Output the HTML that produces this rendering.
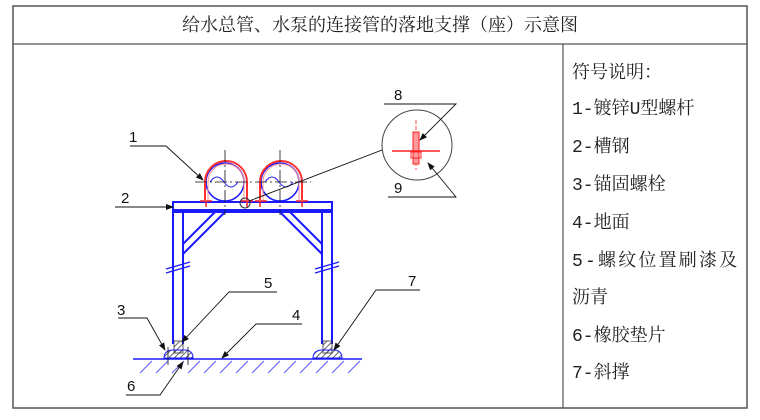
<!DOCTYPE html>
<html><head><meta charset="utf-8"><style>
html,body{margin:0;padding:0;background:#fff;width:760px;height:420px;overflow:hidden}
svg{display:block}
.t{font-family:"Liberation Mono","Noto Serif CJK SC",serif;font-size:18px;fill:#222}
.h{font-family:"Liberation Serif","Noto Serif CJK SC",serif;font-size:18px;fill:#222}
.l{font-family:"Liberation Sans",sans-serif;font-size:15px;fill:#111}
</style></head><body>
<svg width="760" height="420" viewBox="0 0 760 420" xmlns="http://www.w3.org/2000/svg">
<defs>
<pattern id="h" width="4" height="4" patternUnits="userSpaceOnUse" patternTransform="rotate(45)"><line x1="0" y1="0" x2="0" y2="4" stroke="#333" stroke-width="1.5"/></pattern>
<marker id="a" markerWidth="8" markerHeight="6" refX="7" refY="3" orient="auto" markerUnits="userSpaceOnUse"><path d="M0,0 L8,3 L0,6z" fill="#111"/></marker>
</defs>
<rect x="13" y="6" width="734" height="402" fill="none" stroke="#555" stroke-width="1.5"/>
<line x1="13" y1="44" x2="747" y2="44" stroke="#555" stroke-width="1.2"/>
<line x1="563" y1="44" x2="563" y2="408" stroke="#555" stroke-width="1.2"/>
<text class="h" x="380" y="31" text-anchor="middle">给水总管、水泵的连接管的落地支撑（座）示意图</text>
<text class="t" x="572" y="78">符号说明：</text>
<text class="t" x="572" y="114">1-镀锌U型螺杆</text>
<text class="t" x="572" y="152">2-槽钢</text>
<text class="t" x="572" y="190">3-锚固螺栓</text>
<text class="t" x="572" y="228">4-地面</text>
<text class="t" x="572" y="266" style="letter-spacing:2.2px">5-螺纹位置刷漆及</text>
<text class="t" x="572" y="303">沥青</text>
<text class="t" x="572" y="341">6-橡胶垫片</text>
<text class="t" x="572" y="378">7-斜撑</text>

<g stroke="#1a1aff" stroke-width="2" fill="none">
<rect x="173" y="202" width="159" height="8"/>
<line x1="173" y1="212" x2="332" y2="212"/>
<line x1="173" y1="202" x2="173" y2="344"/><line x1="183" y1="212" x2="183" y2="344"/>
<line x1="322" y1="212" x2="322" y2="344"/><line x1="332" y1="202" x2="332" y2="344"/>
<line x1="215" y1="212" x2="183" y2="244"/><line x1="225" y1="212" x2="183" y2="254"/>
<line x1="290" y1="212" x2="322" y2="244"/><line x1="280" y1="212" x2="322" y2="254"/>
<line x1="166" y1="269" x2="190" y2="262" stroke-width="1.2"/><line x1="166" y1="273" x2="190" y2="266" stroke-width="1.2"/>
<line x1="315" y1="269" x2="339" y2="262" stroke-width="1.2"/><line x1="315" y1="273" x2="339" y2="266" stroke-width="1.2"/>
<line x1="133" y1="359" x2="362" y2="359" stroke-width="1.5"/>
</g>
<g stroke="#6a6aff" stroke-width="1.2">
<line x1="140" y1="373" x2="152" y2="361"/><line x1="156" y1="373" x2="168" y2="361"/><line x1="172" y1="373" x2="184" y2="361"/><line x1="188" y1="373" x2="200" y2="361"/><line x1="204" y1="373" x2="216" y2="361"/><line x1="220" y1="373" x2="232" y2="361"/><line x1="236" y1="373" x2="248" y2="361"/><line x1="252" y1="373" x2="264" y2="361"/><line x1="268" y1="373" x2="280" y2="361"/><line x1="284" y1="373" x2="296" y2="361"/><line x1="300" y1="373" x2="312" y2="361"/><line x1="316" y1="373" x2="328" y2="361"/><line x1="332" y1="373" x2="344" y2="361"/><line x1="348" y1="373" x2="360" y2="361"/>
</g>
<rect x="174" y="341" width="9" height="12" fill="url(#h)" stroke="#333" stroke-width="0.8"/>
<path d="M164,358 Q164,351 172,350 L186,350 Q193,351 193,358 Z" fill="url(#h)" stroke="#1a1aff" stroke-width="1"/>
<rect x="323" y="341" width="9" height="12" fill="url(#h)" stroke="#333" stroke-width="0.8"/>
<path d="M313,358 Q313,351 321,350 L335,350 Q342,351 342,358 Z" fill="url(#h)" stroke="#1a1aff" stroke-width="1"/>
<g stroke="#111" stroke-width="0.8"><line x1="168" y1="347" x2="168" y2="365"/><line x1="188" y1="347" x2="188" y2="365"/></g>
<g fill="none">
<circle cx="225" cy="182" r="19" stroke="#1a1aff" stroke-width="1.5"/>
<circle cx="280" cy="182" r="19" stroke="#1a1aff" stroke-width="1.5"/>
<path d="M210,182 q7,-10 14,0 t14,0" stroke="#1a1aff" stroke-width="1"/>
<path d="M265,182 q7,-10 14,0 t14,0" stroke="#1a1aff" stroke-width="1"/>
<path d="M205,200 V182 A21,21 0 0 1 247,182 V200" stroke="#ff3030" stroke-width="2"/>
<path d="M208,200 V182 A18,18 0 0 1 244,182 V200" stroke="#ff9090" stroke-width="1"/>
<path d="M260,200 V182 A21,21 0 0 1 302,182 V200" stroke="#ff3030" stroke-width="2"/>
<path d="M263,200 V182 A18,18 0 0 1 299,182 V200" stroke="#ff9090" stroke-width="1"/>
</g>
<g stroke="#ff2020" stroke-width="1.5">
<line x1="200" y1="201" x2="212" y2="201"/><line x1="206" y1="201" x2="206" y2="207"/>
<line x1="241" y1="201" x2="253" y2="201"/><line x1="247" y1="201" x2="247" y2="207"/>
<line x1="255" y1="201" x2="267" y2="201"/><line x1="260" y1="201" x2="260" y2="207"/>
<line x1="296" y1="201" x2="308" y2="201"/><line x1="302" y1="201" x2="302" y2="207"/>
</g>
<g stroke="#111" stroke-width="0.8">
<line x1="225" y1="150" x2="225" y2="215" stroke-dasharray="12,3,2,3"/>
<line x1="280" y1="150" x2="280" y2="215" stroke-dasharray="12,3,2,3"/>
<line x1="195" y1="182" x2="311" y2="182" stroke-dasharray="12,3,2,3"/>
</g>
<circle cx="245" cy="203" r="5" fill="none" stroke="#333" stroke-width="1"/>
<circle cx="417" cy="145" r="35" fill="none" stroke="#444" stroke-width="1"/>
<g stroke="#ff2020">
<line x1="416" y1="120" x2="416" y2="170" stroke-width="0.8" stroke-dasharray="4,2"/>
<rect x="413" y="132" width="6" height="32" fill="#ff9a9a" stroke-width="1"/>
<line x1="392" y1="151" x2="440" y2="151" stroke-width="1.5"/>
<rect x="411" y="152" width="10" height="6" fill="none" stroke-width="1"/>
</g>
<g stroke="#111" stroke-width="0.9" fill="none">
<polyline points="130,146 166,146 203,180" marker-end="url(#a)"/>
<polyline points="115,207 173,207" marker-end="url(#a)"/>
<polyline points="384,104 456,104 420,140" marker-end="url(#a)"/>
<polyline points="388,197 456,197 428,163" marker-end="url(#a)"/>
<line x1="382" y1="150" x2="249" y2="201"/>
<polyline points="118,318 147,318 165,350" marker-end="url(#a)"/>
<polyline points="277,292 229,292 182,342" marker-end="url(#a)"/>
<polyline points="302,324 256,324 222,358" marker-end="url(#a)"/>
<polyline points="126,395 160,395 183,362" marker-end="url(#a)"/>
<polyline points="420,290 376,290 334,350" marker-end="url(#a)"/>
</g>
<text class="l" x="129" y="142">1</text>
<text class="l" x="121" y="203">2</text>
<text class="l" x="394" y="100">8</text>
<text class="l" x="394" y="193">9</text>
<text class="l" x="117" y="315">3</text>
<text class="l" x="264" y="288">5</text>
<text class="l" x="292" y="320">4</text>
<text class="l" x="127" y="391">6</text>
<text class="l" x="408" y="286">7</text>
</svg>
</body></html>
